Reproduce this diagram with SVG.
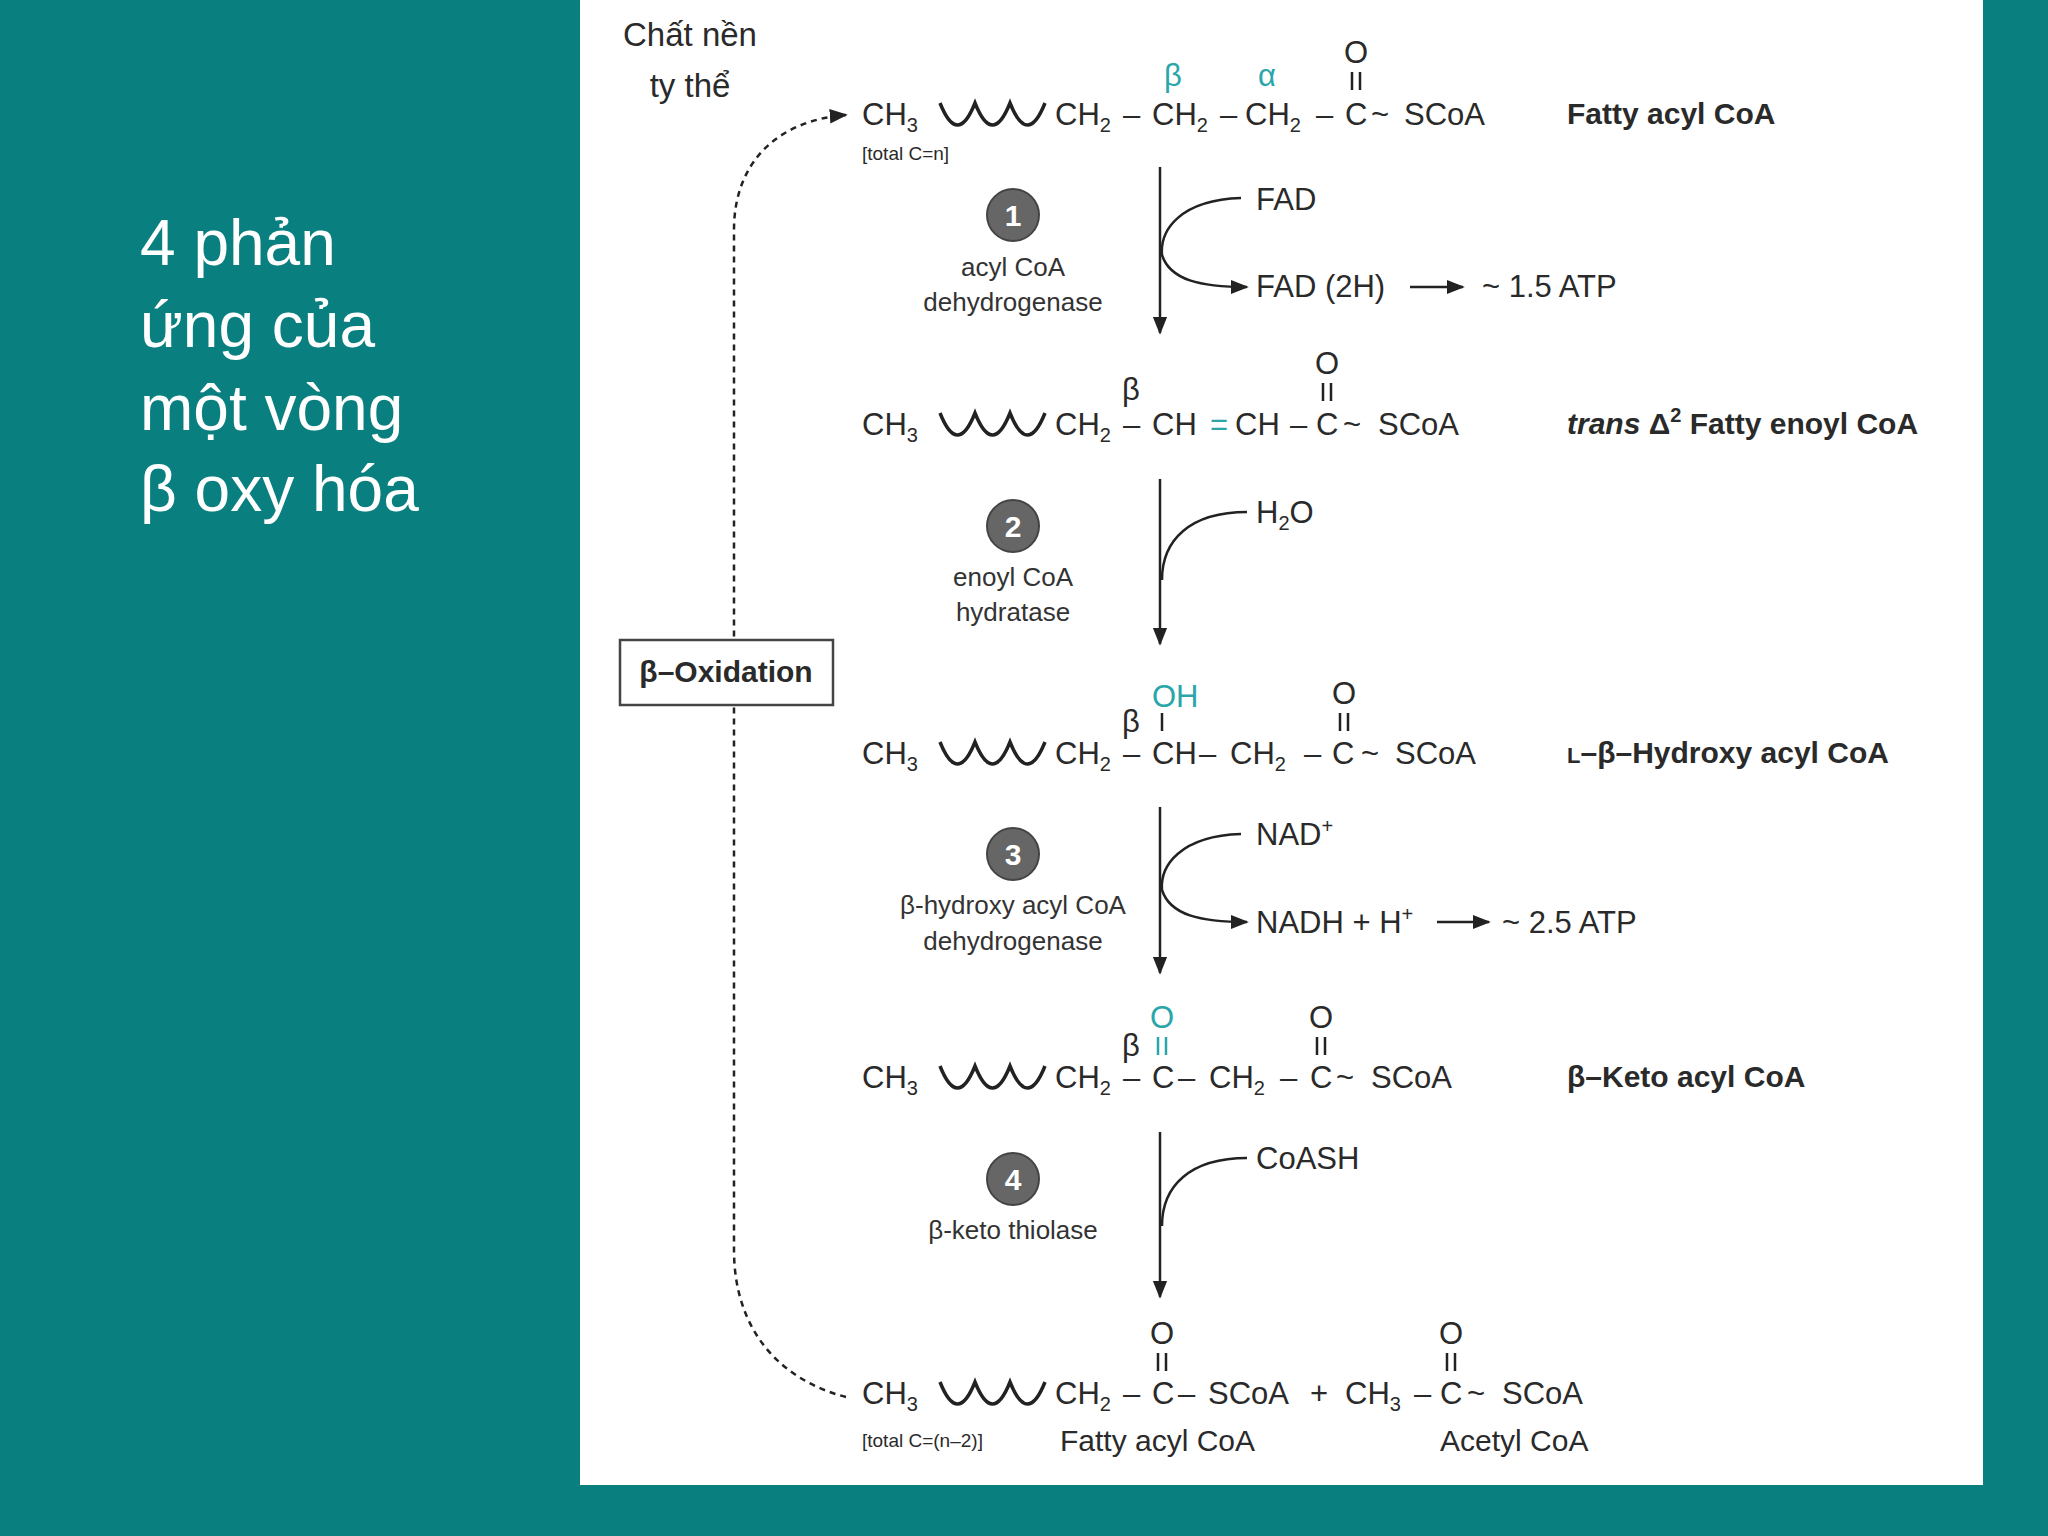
<svg xmlns="http://www.w3.org/2000/svg" width="2048" height="1536" viewBox="0 0 2048 1536">
<style>
text{font-family:"Liberation Sans",Arial,sans-serif;fill:#2a2a2a}
.f{font-size:31px}
.s{font-size:20px}
.g{font-size:32px;fill:#2a2a2a}
.t{fill:#2aa6ab}
.lab{font-size:26px;text-anchor:middle;fill:#333}
.b{font-weight:bold;font-size:30px}
.side{font-size:33px}
.ln{stroke:#222;stroke-width:2.5;fill:none}
.wave{stroke:#222;stroke-width:3.5;fill:none}
</style>
<defs>
<marker id="ah" viewBox="0 0 10 10" refX="9" refY="5" markerWidth="7" markerHeight="7" orient="auto" markerUnits="userSpaceOnUse"><path d="M0,0L10,5L0,10z" fill="#222"/></marker>
<marker id="ah2" viewBox="0 0 10 10" refX="9" refY="5" markerWidth="18" markerHeight="18" orient="auto" markerUnits="userSpaceOnUse"><path d="M0,1L10,5L0,9z" fill="#222"/></marker>
<path id="wave" d="M0,-22 Q17.5,22 35,-22 Q52.5,22 70,-22 Q87.5,22 105,-22" class="wave"/>
</defs>
<rect width="2048" height="1536" fill="#0a7f7f"/>
<rect x="580" y="0" width="1403" height="1485" fill="#ffffff"/>
<g id="title" font-size="64">
<text x="140" y="265" style="fill:#fff;font-size:64px">4 phản</text>
<text x="140" y="347" style="fill:#fff;font-size:64px">ứng của</text>
<text x="140" y="430" style="fill:#fff;font-size:64px">một vòng</text>
<text x="140" y="511" style="fill:#fff;font-size:64px">β oxy hóa</text>
</g>
<g id="mito"><text class="side" x="690" y="46" text-anchor="middle">Chất nền</text><text class="side" x="690" y="97" text-anchor="middle">ty thể</text></g>

<g id="connectors">
<path d="M846,1397 C780,1380 734,1330 734,1250 L734,230 C734,160 780,120 846,115" class="ln" stroke-dasharray="6,5" marker-end="url(#ah2)"/>
<line x1="1160" y1="167" x2="1160" y2="333" class="ln" marker-end="url(#ah2)"/>
<path d="M1241,198 C1180,200 1160,230 1162,255 C1170,280 1200,287 1247,287" class="ln" marker-end="url(#ah2)"/>
<line x1="1410" y1="287" x2="1463" y2="287" class="ln" marker-end="url(#ah2)"/>
<line x1="1160" y1="479" x2="1160" y2="644" class="ln" marker-end="url(#ah2)"/>
<path d="M1247,512 C1190,512 1162,540 1162,580" class="ln"/>
<line x1="1160" y1="807" x2="1160" y2="973" class="ln" marker-end="url(#ah2)"/>
<path d="M1241,834 C1180,836 1160,866 1162,890 C1170,915 1200,922 1247,922" class="ln" marker-end="url(#ah2)"/>
<line x1="1437" y1="922" x2="1489" y2="922" class="ln" marker-end="url(#ah2)"/>
<line x1="1160" y1="1132" x2="1160" y2="1297" class="ln" marker-end="url(#ah2)"/>
<path d="M1247,1158 C1190,1158 1162,1186 1162,1226" class="ln"/>
</g>

<g id="boxlabel"><rect x="620" y="640" width="213" height="65" fill="#fff" stroke="#444" stroke-width="2.5"/><text x="726" y="682" text-anchor="middle" class="b">β–Oxidation</text></g>

<g id="row1">
<text class="f" x="862" y="125">CH<tspan class="s" dy="7">3</tspan></text>
<use href="#wave" x="940" y="125"/>
<text class="f" x="1055" y="125">CH<tspan class="s" dy="7">2</tspan></text>
<text class="f" x="1123" y="125">–</text>
<text class="f" x="1152" y="125">CH<tspan class="s" dy="7">2</tspan></text>
<text class="f" x="1220" y="125">–</text>
<text class="f" x="1245" y="125">CH<tspan class="s" dy="7">2</tspan></text>
<text class="f" x="1316" y="125">–</text>
<text class="f" x="1345" y="125">C</text>
<text class="f" x="1371" y="125">~</text>
<text class="f" x="1404" y="125">SCoA</text>
<text class="f t" x="1173" y="86" text-anchor="middle">β</text>
<text class="f t" x="1267" y="86" text-anchor="middle">α</text>
<text class="f" x="1356" y="63" text-anchor="middle">O</text>
<path d="M1352,72v18M1360,72v18" class="ln"/>
<text x="862" y="160" style="font-size:19px">[total C=n]</text>
<text class="b" x="1567" y="124">Fatty acyl CoA</text>
</g>

<g id="step1">
<circle cx="1013" cy="215" r="26" fill="#666" stroke="#444" stroke-width="2"/>
<text x="1013" y="226" text-anchor="middle" style="fill:#fff;font-size:30px;font-weight:bold">1</text>
<text class="lab" x="1013" y="276">acyl CoA</text><text class="lab" x="1013" y="311">dehydrogenase</text>
<text class="f" x="1256" y="210">FAD</text>
<text class="f" x="1256" y="297">FAD (2H)</text>
<text class="f" x="1482" y="297">~ 1.5 ATP</text>
</g>

<g id="row2">
<text class="f" x="862" y="435">CH<tspan class="s" dy="7">3</tspan></text>
<use href="#wave" x="940" y="435"/>
<text class="f" x="1055" y="435">CH<tspan class="s" dy="7">2</tspan></text>
<text class="f" x="1123" y="435">–</text>
<text class="f" x="1152" y="435">CH</text>
<text class="f t" x="1210" y="435">=</text>
<text class="f" x="1235" y="435">CH</text>
<text class="f" x="1290" y="435">–</text>
<text class="f" x="1316" y="435">C</text>
<text class="f" x="1343" y="435">~</text>
<text class="f" x="1378" y="435">SCoA</text>
<text class="f" x="1131" y="400" text-anchor="middle">β</text>
<text class="f" x="1327" y="374" text-anchor="middle">O</text>
<path d="M1323,383v18M1331,383v18" class="ln"/>
<text class="b" x="1567" y="434"><tspan font-style="italic">trans</tspan> Δ<tspan font-size="20" dy="-12">2</tspan><tspan dy="12"> Fatty enoyl CoA</tspan></text>
</g>

<g id="step2">
<circle cx="1013" cy="526" r="26" fill="#666" stroke="#444" stroke-width="2"/>
<text x="1013" y="537" text-anchor="middle" style="fill:#fff;font-size:30px;font-weight:bold">2</text>
<text class="lab" x="1013" y="586">enoyl CoA</text><text class="lab" x="1013" y="621">hydratase</text>
<text class="f" x="1256" y="523">H<tspan class="s" dy="7">2</tspan><tspan dy="-7">O</tspan></text>
</g>

<g id="row3">
<text class="f" x="862" y="764">CH<tspan class="s" dy="7">3</tspan></text>
<use href="#wave" x="940" y="764"/>
<text class="f" x="1055" y="764">CH<tspan class="s" dy="7">2</tspan></text>
<text class="f" x="1123" y="764">–</text>
<text class="f" x="1152" y="764">CH</text>
<text class="f" x="1199" y="764">–</text>
<text class="f" x="1230" y="764">CH<tspan class="s" dy="7">2</tspan></text>
<text class="f" x="1304" y="764">–</text>
<text class="f" x="1332" y="764">C</text>
<text class="f" x="1361" y="764">~</text>
<text class="f" x="1395" y="764">SCoA</text>
<text class="f t" x="1152" y="707">OH</text>
<path d="M1162,713v18" class="ln"/>
<text class="f" x="1131" y="732" text-anchor="middle">β</text>
<text class="f" x="1344" y="704" text-anchor="middle">O</text>
<path d="M1340,713v18M1348,713v18" class="ln"/>
<text class="b" x="1567" y="763"><tspan font-size="22">L</tspan>–β–Hydroxy acyl CoA</text>
</g>

<g id="step3">
<circle cx="1013" cy="854" r="26" fill="#666" stroke="#444" stroke-width="2"/>
<text x="1013" y="865" text-anchor="middle" style="fill:#fff;font-size:30px;font-weight:bold">3</text>
<text class="lab" x="1013" y="914">β-hydroxy acyl CoA</text><text class="lab" x="1013" y="950">dehydrogenase</text>
<text class="f" x="1256" y="845">NAD<tspan class="s" dy="-12">+</tspan></text>
<text class="f" x="1256" y="933">NADH + H<tspan class="s" dy="-12">+</tspan></text>
<text class="f" x="1502" y="933">~ 2.5 ATP</text>
</g>

<g id="row4">
<text class="f" x="862" y="1088">CH<tspan class="s" dy="7">3</tspan></text>
<use href="#wave" x="940" y="1088"/>
<text class="f" x="1055" y="1088">CH<tspan class="s" dy="7">2</tspan></text>
<text class="f" x="1123" y="1088">–</text>
<text class="f" x="1152" y="1088">C</text>
<text class="f" x="1178" y="1088">–</text>
<text class="f" x="1209" y="1088">CH<tspan class="s" dy="7">2</tspan></text>
<text class="f" x="1280" y="1088">–</text>
<text class="f" x="1310" y="1088">C</text>
<text class="f" x="1336" y="1088">~</text>
<text class="f" x="1371" y="1088">SCoA</text>
<text class="f t" x="1162" y="1028" text-anchor="middle">O</text>
<path d="M1158,1037v18M1166,1037v18" stroke="#2aa6ab" stroke-width="2.5"/>
<text class="f" x="1131" y="1056" text-anchor="middle">β</text>
<text class="f" x="1321" y="1028" text-anchor="middle">O</text>
<path d="M1317,1037v18M1325,1037v18" class="ln"/>
<text class="b" x="1567" y="1087">β–Keto acyl CoA</text>
</g>

<g id="step4">
<circle cx="1013" cy="1179" r="26" fill="#666" stroke="#444" stroke-width="2"/>
<text x="1013" y="1190" text-anchor="middle" style="fill:#fff;font-size:30px;font-weight:bold">4</text>
<text class="lab" x="1013" y="1239">β-keto thiolase</text>
<text class="f" x="1256" y="1169">CoASH</text>
</g>

<g id="row5">
<text class="f" x="862" y="1404">CH<tspan class="s" dy="7">3</tspan></text>
<use href="#wave" x="940" y="1404"/>
<text class="f" x="1055" y="1404">CH<tspan class="s" dy="7">2</tspan></text>
<text class="f" x="1123" y="1404">–</text>
<text class="f" x="1152" y="1404">C</text>
<text class="f" x="1178" y="1404">–</text>
<text class="f" x="1208" y="1404">SCoA</text>
<text class="f" x="1310" y="1404">+</text>
<text class="f" x="1345" y="1404">CH<tspan class="s" dy="7">3</tspan></text>
<text class="f" x="1414" y="1404">–</text>
<text class="f" x="1440" y="1404">C</text>
<text class="f" x="1467" y="1404">~</text>
<text class="f" x="1502" y="1404">SCoA</text>
<text class="f" x="1162" y="1344" text-anchor="middle">O</text>
<path d="M1158,1353v18M1166,1353v18" class="ln"/>
<text class="f" x="1451" y="1344" text-anchor="middle">O</text>
<path d="M1447,1353v18M1455,1353v18" class="ln"/>
<text x="862" y="1447" style="font-size:19px">[total C=(n–2)]</text>
<text x="1060" y="1451" style="font-size:30px">Fatty acyl CoA</text>
<text x="1440" y="1451" style="font-size:30px">Acetyl CoA</text>
</g>
</svg>
